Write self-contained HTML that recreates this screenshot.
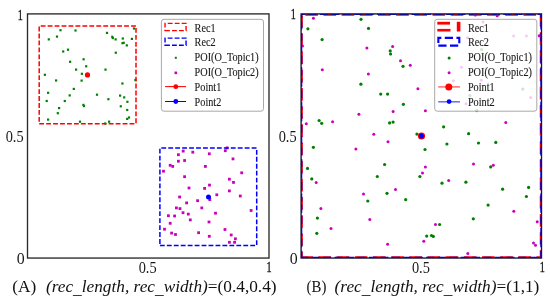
<!DOCTYPE html><html><head><meta charset="utf-8"><title>Figure</title><style>html,body{margin:0;padding:0;background:#fff;}svg{display:block;}</style></head><body><svg width="550" height="304" viewBox="0 0 550 304" font-family="'Liberation Serif', serif"><rect width="550" height="304" fill="#fff"/><g fill="#008000"><rect x="59.4" y="29.1" width="2.2" height="2.2"/><rect x="74.4" y="29.4" width="2.2" height="2.2"/><rect x="55.9" y="35.5" width="2.2" height="2.2"/><rect x="47.7" y="38.3" width="2.2" height="2.2"/><rect x="62.1" y="50.4" width="2.2" height="2.2"/><rect x="66.9" y="48.6" width="2.2" height="2.2"/><rect x="69" y="60.7" width="2.2" height="2.2"/><rect x="82.5" y="58.2" width="2.2" height="2.2"/><rect x="85.1" y="65.2" width="2.2" height="2.2"/><rect x="75" y="68.5" width="2.2" height="2.2"/><rect x="80.8" y="72.7" width="2.2" height="2.2"/><rect x="43.8" y="73.7" width="2.2" height="2.2"/><rect x="105.9" y="31.8" width="2.2" height="2.2"/><rect x="111.2" y="35.7" width="2.2" height="2.2"/><rect x="111.7" y="37" width="2.2" height="2.2"/><rect x="114.5" y="38.3" width="2.2" height="2.2"/><rect x="121.7" y="37.4" width="2.2" height="2.2"/><rect x="130.8" y="37.8" width="2.2" height="2.2"/><rect x="121.4" y="42.1" width="2.2" height="2.2"/><rect x="122.6" y="41.7" width="2.2" height="2.2"/><rect x="125.7" y="44.3" width="2.2" height="2.2"/><rect x="132.9" y="27.4" width="2.2" height="2.2"/><rect x="114.7" y="51.6" width="2.2" height="2.2"/><rect x="104.4" y="68.5" width="2.2" height="2.2"/><rect x="55" y="79.4" width="2.2" height="2.2"/><rect x="80.5" y="79.5" width="2.2" height="2.2"/><rect x="72.7" y="87.8" width="2.2" height="2.2"/><rect x="47" y="91.7" width="2.2" height="2.2"/><rect x="68.6" y="94.3" width="2.2" height="2.2"/><rect x="45.6" y="99.9" width="2.2" height="2.2"/><rect x="63.7" y="99.9" width="2.2" height="2.2"/><rect x="82.3" y="103.8" width="2.2" height="2.2"/><rect x="82.9" y="105" width="2.2" height="2.2"/><rect x="58" y="107" width="2.2" height="2.2"/><rect x="56.7" y="112.1" width="2.2" height="2.2"/><rect x="47" y="118.5" width="2.2" height="2.2"/><rect x="78.9" y="120.6" width="2.2" height="2.2"/><rect x="134.3" y="78.9" width="2.2" height="2.2"/><rect x="121.3" y="82.4" width="2.2" height="2.2"/><rect x="95.9" y="93.6" width="2.2" height="2.2"/><rect x="107.3" y="98.1" width="2.2" height="2.2"/><rect x="119" y="94.5" width="2.2" height="2.2"/><rect x="123.1" y="96.3" width="2.2" height="2.2"/><rect x="126.3" y="100.7" width="2.2" height="2.2"/><rect x="119.7" y="105.2" width="2.2" height="2.2"/><rect x="126.1" y="108.9" width="2.2" height="2.2"/><rect x="127.9" y="116.4" width="2.2" height="2.2"/><rect x="126.1" y="117.8" width="2.2" height="2.2"/><rect x="108" y="120.6" width="2.2" height="2.2"/><rect x="104.1" y="122.4" width="2.2" height="2.2"/></g><g fill="#cc00bb"><rect x="181.8" y="149.7" width="2.8" height="2.8"/><rect x="191.4" y="150.8" width="2.8" height="2.8"/><rect x="177" y="153.3" width="2.8" height="2.8"/><rect x="207.9" y="152.4" width="2.8" height="2.8"/><rect x="177" y="159.8" width="2.8" height="2.8"/><rect x="183.2" y="159.1" width="2.8" height="2.8"/><rect x="168.8" y="163.9" width="2.8" height="2.8"/><rect x="171.3" y="165" width="2.8" height="2.8"/><rect x="204" y="165" width="2.8" height="2.8"/><rect x="162.1" y="169.8" width="2.8" height="2.8"/><rect x="183.2" y="175.3" width="2.8" height="2.8"/><rect x="187.6" y="186.6" width="2.8" height="2.8"/><rect x="203.2" y="187" width="2.8" height="2.8"/><rect x="208.1" y="183.7" width="2.8" height="2.8"/><rect x="178.2" y="195.6" width="2.8" height="2.8"/><rect x="225.7" y="146.5" width="2.8" height="2.8"/><rect x="223.9" y="149.3" width="2.8" height="2.8"/><rect x="231.6" y="157.5" width="2.8" height="2.8"/><rect x="240.3" y="171.4" width="2.8" height="2.8"/><rect x="228" y="177.8" width="2.8" height="2.8"/><rect x="232.1" y="181" width="2.8" height="2.8"/><rect x="228" y="189.5" width="2.8" height="2.8"/><rect x="215.4" y="193.4" width="2.8" height="2.8"/><rect x="238.9" y="194.6" width="2.8" height="2.8"/><rect x="185.2" y="201.5" width="2.8" height="2.8"/><rect x="196.2" y="199.3" width="2.8" height="2.8"/><rect x="175" y="206.5" width="2.8" height="2.8"/><rect x="178.6" y="207.2" width="2.8" height="2.8"/><rect x="200.4" y="206.5" width="2.8" height="2.8"/><rect x="181.6" y="211.3" width="2.8" height="2.8"/><rect x="186.9" y="212.7" width="2.8" height="2.8"/><rect x="167" y="214.3" width="2.8" height="2.8"/><rect x="173.2" y="214.6" width="2.8" height="2.8"/><rect x="188.9" y="218.5" width="2.8" height="2.8"/><rect x="168.8" y="221.9" width="2.8" height="2.8"/><rect x="207.6" y="220.6" width="2.8" height="2.8"/><rect x="163.1" y="227.8" width="2.8" height="2.8"/><rect x="170.2" y="231.7" width="2.8" height="2.8"/><rect x="174.1" y="233.1" width="2.8" height="2.8"/><rect x="197.2" y="231.3" width="2.8" height="2.8"/><rect x="207.9" y="234.9" width="2.8" height="2.8"/><rect x="208.4" y="198.2" width="2.8" height="2.8"/><rect x="249.7" y="209.1" width="2.8" height="2.8"/><rect x="214.1" y="211.8" width="2.8" height="2.8"/><rect x="223.6" y="228.1" width="2.8" height="2.8"/><rect x="229.8" y="233.6" width="2.8" height="2.8"/><rect x="234" y="237.4" width="2.8" height="2.8"/><rect x="228" y="240.9" width="2.8" height="2.8"/><rect x="233.2" y="240.9" width="2.8" height="2.8"/></g><path d="M39.2 123.7H136V26H39.2Z" fill="none" stroke="#f00" stroke-width="1.5" stroke-dasharray="4.85 2.1"/><path d="M159.9 245.6H256.7V148H159.9Z" fill="none" stroke="#00f" stroke-width="1.5" stroke-dasharray="4.85 2.1"/><circle cx="87.5" cy="74.9" r="2.6" fill="#f00"/><circle cx="208.5" cy="196.9" r="2.5" fill="#00f"/><rect x="27.5" y="13.9" width="241.5" height="244.15" fill="none" stroke="#2a2a2a" stroke-width="1.35"/><rect x="161.4" y="19.3" width="102.1" height="91.9" rx="2.6" fill="#fff" fill-opacity="0.8" stroke="#a8a8a8" stroke-width="1"/><path d="M165.05 30.6H186.05V23.35H165.05Z" fill="none" stroke="#f00" stroke-width="1.4" stroke-dasharray="4.85 2.1" stroke-miterlimit="10"/><path d="M165.05 45.3H186.05V38.1H165.05Z" fill="none" stroke="#00f" stroke-width="1.4" stroke-dasharray="4.85 2.1" stroke-miterlimit="10"/><rect x="174.8" y="56.8" width="2" height="2" fill="#008000"/><rect x="174.5" y="71.55" width="2.6" height="2.6" fill="#cc00bb"/><line x1="165.05" x2="186.05" y1="86.6" y2="86.6" stroke="#f00" stroke-width="1.05"/><circle cx="175.8" cy="86.65" r="2.45" fill="#f00"/><line x1="165.05" x2="186.05" y1="101.5" y2="101.5" stroke="#00f" stroke-width="1.05"/><circle cx="175.8" cy="101.5" r="2.45" fill="#00f"/><g font-size="11.5" fill="#1a1a1a" stroke="#1a1a1a" stroke-width="0.12"><text transform="translate(194.6 31.5) scale(0.89 1)">Rec1</text><text transform="translate(194.6 46.2) scale(0.89 1)">Rec2</text><text transform="translate(194.6 61.2) scale(0.89 1)">POI(O_Topic1)</text><text transform="translate(194.6 76.1) scale(0.89 1)">POI(O_Topic2)</text><text transform="translate(194.6 91.1) scale(0.89 1)">Point1</text><text transform="translate(194.6 106.1) scale(0.89 1)">Point2</text></g><clipPath id="rc"><rect x="301.1" y="13.9" width="240.4" height="244.15"/></clipPath><g clip-path="url(#rc)" fill="none" stroke-miterlimit="10"><path d="M301.1 258.05H541.5V13.9H301.1Z" stroke="#f00" stroke-width="3.5" stroke-dasharray="12.69 5.49" stroke-dashoffset="0.9"/><path d="M301.1 258.05H541.5V13.9H301.1Z" stroke="#00f" stroke-width="2.4" stroke-dasharray="8.0 3.46" stroke-dashoffset="0.9"/></g><g fill="#008000"><circle cx="307.9" cy="28.8" r="1.6"/><circle cx="322.1" cy="39.6" r="1.6"/><circle cx="361" cy="19.3" r="1.6"/><circle cx="368.5" cy="28.4" r="1.6"/><circle cx="390.2" cy="50.9" r="1.6"/><circle cx="390.6" cy="54" r="1.6"/><circle cx="403" cy="66.3" r="1.6"/><circle cx="360.9" cy="84.2" r="1.6"/><circle cx="380.7" cy="94.1" r="1.6"/><circle cx="387.6" cy="94.1" r="1.6"/><circle cx="403.4" cy="104.3" r="1.6"/><circle cx="319.1" cy="120.5" r="1.6"/><circle cx="321.7" cy="123.3" r="1.6"/><circle cx="389.6" cy="122.9" r="1.6"/><circle cx="393.1" cy="122.1" r="1.6"/><circle cx="313.4" cy="147.3" r="1.6"/><circle cx="307.5" cy="168.4" r="1.6"/><circle cx="311.8" cy="178.9" r="1.6"/><circle cx="384.6" cy="164.5" r="1.6"/><circle cx="377.3" cy="176.5" r="1.6"/><circle cx="443.6" cy="126.8" r="1.6"/><circle cx="416.9" cy="134.1" r="1.6"/><circle cx="468.6" cy="133.7" r="1.6"/><circle cx="446.9" cy="144" r="1.6"/><circle cx="425" cy="149.5" r="1.6"/><circle cx="478.5" cy="143" r="1.6"/><circle cx="495.8" cy="142.4" r="1.6"/><circle cx="490.7" cy="166.9" r="1.6"/><circle cx="317.4" cy="218.1" r="1.6"/><circle cx="316.8" cy="233.3" r="1.6"/><circle cx="387" cy="193.3" r="1.6"/><circle cx="367.8" cy="201" r="1.6"/><circle cx="405.7" cy="199.7" r="1.6"/><circle cx="419.9" cy="176.5" r="1.6"/><circle cx="442" cy="183.2" r="1.6"/><circle cx="465.9" cy="182.2" r="1.6"/><circle cx="439.6" cy="224.5" r="1.6"/><circle cx="502.6" cy="189.2" r="1.6"/><circle cx="528.6" cy="187.4" r="1.6"/><circle cx="526.4" cy="196.5" r="1.6"/><circle cx="488.1" cy="205.1" r="1.6"/><circle cx="473.3" cy="218.8" r="1.6"/><circle cx="426.7" cy="236.1" r="1.6"/><circle cx="431.5" cy="235.5" r="1.6"/><circle cx="433.3" cy="236.4" r="1.6"/><circle cx="481.6" cy="49.5" r="1.6"/><circle cx="522.8" cy="89.1" r="1.6"/><circle cx="469.9" cy="95.5" r="1.6"/><circle cx="476.8" cy="110.6" r="1.6"/></g><g fill="#cc00bb"><circle cx="313.4" cy="18.3" r="1.5"/><circle cx="302.5" cy="46" r="1.5"/><circle cx="322.3" cy="69.8" r="1.5"/><circle cx="366.9" cy="47.9" r="1.5"/><circle cx="392.6" cy="46.5" r="1.5"/><circle cx="400.5" cy="60.7" r="1.5"/><circle cx="410.3" cy="65.3" r="1.5"/><circle cx="475.3" cy="14.9" r="1.5"/><circle cx="497.2" cy="15.7" r="1.5"/><circle cx="539.2" cy="35.7" r="1.5"/><circle cx="368.4" cy="73.9" r="1.5"/><circle cx="358.9" cy="114.3" r="1.5"/><circle cx="306.3" cy="123.7" r="1.5"/><circle cx="332.6" cy="121.7" r="1.5"/><circle cx="393.1" cy="111.4" r="1.5"/><circle cx="417.9" cy="88.7" r="1.5"/><circle cx="425.4" cy="110.8" r="1.5"/><circle cx="505.8" cy="122.5" r="1.5"/><circle cx="355.9" cy="148.9" r="1.5"/><circle cx="316.2" cy="182.4" r="1.5"/><circle cx="373.8" cy="134.3" r="1.5"/><circle cx="388" cy="141.8" r="1.5"/><circle cx="425.4" cy="166.9" r="1.5"/><circle cx="422.5" cy="173.1" r="1.5"/><circle cx="473.5" cy="164" r="1.5"/><circle cx="493.3" cy="165.3" r="1.5"/><circle cx="320.9" cy="208.6" r="1.5"/><circle cx="331" cy="228.5" r="1.5"/><circle cx="395.5" cy="189.6" r="1.5"/><circle cx="363.5" cy="194.1" r="1.5"/><circle cx="369.8" cy="219.6" r="1.5"/><circle cx="448.7" cy="180.5" r="1.5"/><circle cx="435.5" cy="224.5" r="1.5"/><circle cx="513.8" cy="211.3" r="1.5"/><circle cx="537.2" cy="221.7" r="1.5"/><circle cx="387.6" cy="244.3" r="1.5"/><circle cx="423.8" cy="241.3" r="1.5"/><circle cx="467.8" cy="253.5" r="1.5"/><circle cx="533.5" cy="243.1" r="1.5"/><circle cx="535.5" cy="245.2" r="1.5"/><circle cx="467.4" cy="37.7" r="1.5"/><circle cx="461.4" cy="67.3" r="1.5"/><circle cx="483" cy="21.9" r="1.5"/><circle cx="513.6" cy="36.1" r="1.5"/><circle cx="526.4" cy="36.1" r="1.5"/><circle cx="453.4" cy="80.7" r="1.5"/><circle cx="481.4" cy="80.3" r="1.5"/><circle cx="466" cy="103.7" r="1.5"/><circle cx="530.7" cy="97.5" r="1.5"/></g><circle cx="421.5" cy="136" r="3.6" fill="#f00"/><circle cx="421.4" cy="136" r="2.5" fill="#00f"/><rect x="301.1" y="13.9" width="240.4" height="244.15" fill="none" stroke="#14143c" stroke-width="1.35"/><rect x="434.7" y="19.3" width="102.1" height="91.9" rx="2.6" fill="#fff" fill-opacity="0.8" stroke="#a8a8a8" stroke-width="1"/><g fill="#f00"><rect x="437.3" y="21.8" width="12.7" height="2.8"/><rect x="437.3" y="28.9" width="13.2" height="2.6"/><rect x="456.8" y="21.8" width="3.6" height="9.7"/></g><path d="M438.35 45.6H459.3V37.9H438.35Z" fill="none" stroke="#00f" stroke-width="2.1" stroke-dasharray="8.2 3.45" stroke-miterlimit="10"/><circle cx="449.1" cy="58" r="1.5" fill="#008000"/><circle cx="449.1" cy="72.7" r="1.5" fill="#cc00bb"/><line x1="438.2" x2="459.9" y1="86.9" y2="86.9" stroke="#f00" stroke-opacity="0.55" stroke-width="1.6"/><circle cx="448.8" cy="86.9" r="3.5" fill="#f00"/><line x1="438.2" x2="459.9" y1="101.8" y2="101.8" stroke="#00f" stroke-opacity="0.6" stroke-width="1.5"/><circle cx="449.1" cy="101.6" r="2.4" fill="#00f"/><g font-size="11.5" fill="#1a1a1a" stroke="#1a1a1a" stroke-width="0.12"><text transform="translate(467.9 31.5) scale(0.89 1)">Rec1</text><text transform="translate(467.9 46.2) scale(0.89 1)">Rec2</text><text transform="translate(467.9 61.2) scale(0.89 1)">POI(O_Topic1)</text><text transform="translate(467.9 76.1) scale(0.89 1)">POI(O_Topic2)</text><text transform="translate(467.9 91.1) scale(0.89 1)">Point1</text><text transform="translate(467.9 106.1) scale(0.89 1)">Point2</text></g><g font-size="17.3" fill="#1a1a1a"><text font-size="15.4" stroke="#1a1a1a" stroke-width="0.45" transform="translate(22.8 19.6) scale(0.66 1)" text-anchor="end">1</text><text transform="translate(23.6 142.2) scale(0.83 1)" text-anchor="end">0.5</text><text transform="translate(24.6 264.2) scale(0.92 1)" text-anchor="end">0</text><text transform="translate(147.6 273) scale(0.83 1)" text-anchor="middle">0.5</text><text font-size="15.4" stroke="#1a1a1a" stroke-width="0.45" transform="translate(269.1 272) scale(0.66 1)" text-anchor="middle">1</text><text font-size="15.4" stroke="#1a1a1a" stroke-width="0.45" transform="translate(295.8 18.8) scale(0.66 1)" text-anchor="end">1</text><text transform="translate(296.6 142.2) scale(0.83 1)" text-anchor="end">0.5</text><text transform="translate(297.6 264.2) scale(0.92 1)" text-anchor="end">0</text><text transform="translate(420.9 273.1) scale(0.83 1)" text-anchor="middle">0.5</text><text font-size="15.4" stroke="#1a1a1a" stroke-width="0.45" transform="translate(542.2 272.2) scale(0.66 1)" text-anchor="middle">1</text></g><g font-size="17.3" fill="#111"><text x="12.3" y="292.3">(A)</text><text x="45.9" y="292.3"><tspan font-style="italic">(rec<tspan dy="1.7">_</tspan><tspan dy="-1.7">length, rec</tspan><tspan dy="1.7">_</tspan><tspan dy="-1.7">width)</tspan></tspan>=(0.4,0.4)</text><text x="306.6" y="292.3" textLength="19.8" lengthAdjust="spacingAndGlyphs">(B)</text><text x="334.6" y="292.3"><tspan font-style="italic">(rec<tspan dy="1.7">_</tspan><tspan dy="-1.7">length, rec</tspan><tspan dy="1.7">_</tspan><tspan dy="-1.7">width)</tspan></tspan>=(1,1)</text></g></svg></body></html>
